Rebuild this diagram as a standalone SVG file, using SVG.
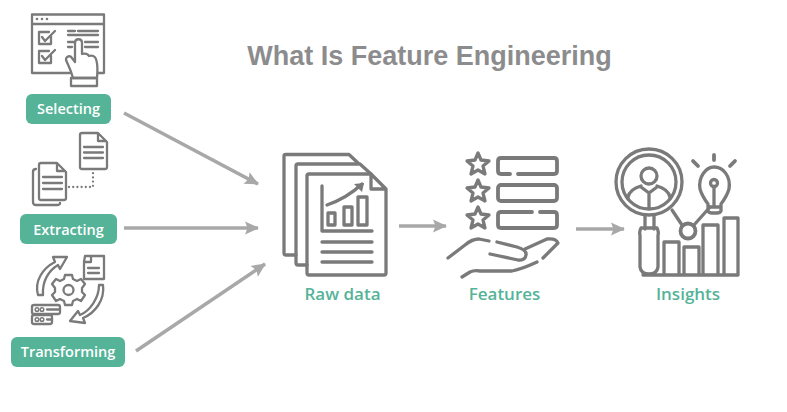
<svg xmlns="http://www.w3.org/2000/svg" width="787" height="412" viewBox="0 0 787 412">
<style>
.i{fill:none;stroke:#7a7a7a;stroke-width:2.300;stroke-linejoin:round;stroke-linecap:round}
.t{stroke-width:3.300}
.m{stroke-width:3.800}
.s{stroke-width:1.500}
.o{stroke-dasharray:0 5;stroke-width:2.600}
.p{fill:#55b398}
.pl{font-family:"Open Sans","Noto Sans",sans-serif;font-weight:600;font-size:14.500px;fill:#fff;text-anchor:middle}
.l{font-family:"Open Sans","Noto Sans",sans-serif;font-weight:600;font-size:17px;fill:#55b398;text-anchor:middle}
.c{stroke:#a8a8a8;stroke-width:3.600;fill:none;marker-end:url(#a)}
</style>
<defs><marker id="a" markerUnits="userSpaceOnUse" markerWidth="16" markerHeight="16" refX="14" refY="8" orient="auto"><path d="M1 1.500L15 8L1 14.500L3.500 8Z" fill="#a8a8a8"/></marker></defs>
<rect width="787" height="412" fill="#fff"/>
<text id="title" x="429.500" y="65" font-family="Liberation Sans,Arial,sans-serif" font-weight="700" font-size="27px" fill="#8c8c8e" text-anchor="middle">What Is Feature Engineering</text>
<g id="connectors">
<path class="c" d="M124 113L258 184"/>
<path class="c" d="M124 228L258 228"/>
<path class="c" d="M136 351L265 264"/>
<path class="c" d="M399 226L446 226"/>
<path class="c" d="M576 229L624 229"/>
</g>
<g id="selecting">
<path class="i" d="M70 73H32V14.500H104V73H98M32 24H104"/>
<path class="i o" d="M37 19H48"/>
<path class="i" d="M51 36V44H39V32H49M51 56V63H39V51H49M42 37L45 41L55 31M42 56L45 60L55 50"/>
<path class="i" d="M68 31H75M78 31H98M68 35H98M68 42H74M85 42H98M68 47H72M85 47H98"/>
<path class="i" style="fill:#fff" d="M73 78C71 70 68 65 66 60C66 56 70 55 72 58L75 62V43C75 38 82 38 82 43V54C85 53 88 54 89 56C92 55 95 56 96 59C97 62 98 68 97 78Z"/>
<path class="i" d="M71 78H97V86H71Z"/>
<rect class="p" x="26" y="94" width="85" height="30" rx="6"/>
<text class="pl" x="68.500" y="114">Selecting</text>
</g>
<g id="extracting">
<path class="i" d="M82 133H98L107 142V167Q107 169 105 169H82Q80 169 80 167V135Q80 133 82 133ZM98 134V141H106M84 147H103M84 152.500H103M84 158H103"/>
<path class="i" d="M41 163H57L66 172V198Q66 200 64 200H41Q39 200 39 198V165Q39 163 41 163ZM57 164V171H65M43 177H62M43 183H62M43 189H62"/>
<path class="i" d="M36 169Q33 169 33 172V202Q33 205 36 205H57Q60 205 60 203"/>
<path class="i" stroke-dasharray="0 4.200" d="M69 187H93V171"/>
<rect class="p" x="20" y="214" width="97" height="30" rx="6"/>
<text class="pl" x="68.500" y="235">Extracting</text>
</g>
<g id="transforming">
<path class="i" d="M85 256H104V279H84V262ZM85 262H91V256M88 268H99M88 273H99"/>
<path class="i" d="M38 295C34 281 43 268 55 262L53 257L67 257L60 269L58 265C48 271 42 282 43 295Z"/>
<path class="i" d="M103 285C105 300 95 313 83 318L85 323L70 321L78 311L80 315C90 311 99 298 99 285Z"/>
<path class="i" d="M65 275H72L73 279L77 281L81 279L85 284L82 288V292L85 295L81 301L77 299L73 301L72 305H65L64 301L60 299L56 301L52 295L55 292V288L52 284L56 279L60 281L64 279Z"/>
<circle class="i" cx="68.500" cy="290" r="5"/>
<rect class="i" x="32" y="305" width="28" height="9" rx="2"/>
<rect class="i" x="32" y="315" width="20" height="9" rx="2"/>
<path class="i" d="M47 309.500H60M47 319.500H52"/>
<circle class="i s" cx="37" cy="309.500" r="1.800"/><circle class="i s" cx="42" cy="309.500" r="1.800"/><circle class="i s" cx="37" cy="319.500" r="1.800"/><circle class="i s" cx="42" cy="319.500" r="1.800"/>
<rect class="p" x="11" y="337" width="114" height="30" rx="6"/>
<text class="pl" x="68" y="357">Transforming</text>
</g>
<g id="raw-data">
<path class="i t" d="M296 255H286Q284 255 284 253V156Q284 154.500 286 154.500H349L358 163"/>
<path class="i t" d="M307 265H298Q296 265 296 263V166Q296 164 298 164H360L371 174"/>
<path class="i t" d="M309 174H371L386 189V273Q386 275 384 275H309Q307 275 307 273V176Q307 174 309 174ZM371 175V189H385"/>
<path class="i t" d="M322 186V231H372"/>
<path class="i t" d="M328 213H335V225H328ZM344 207H352V225H344ZM358 197H367V225H358ZM327 205Q347 198 362 184"/>
<path d="M354 184L364 183L362 192Z" fill="#7a7a7a"/>
<path class="i t" d="M322 242H372M322 252H372M322 262H372"/>
<text class="l" x="342.500" y="300">Raw data</text>
</g>
<g id="features">
<path class="i t" d="M478 153L481 160L489 161L483 166L485 174L478 170L471 174L473 166L467 161L475 160Z"/>
<path class="i t" d="M478 180L481 187L489 188L483 193L485 201L478 197L471 201L473 193L467 188L475 187Z"/>
<path class="i t" d="M478 207L481 214L489 215L483 220L485 228L478 224L471 228L473 220L467 215L475 214Z"/>
<path class="i m" d="M510 174H501Q498 174 498 171V161Q498 158 501 158H554Q557 158 557 161V171Q557 174 554 174H518"/>
<rect class="i m" x="498" y="185" width="59" height="16" rx="3"/>
<path class="i m" d="M532 212H501Q498 212 498 215V225Q498 228 501 228H554Q557 228 557 225V215Q557 212 554 212H540"/>
<path class="i t" d="M448 258L465 245Q472 239 479 239L489 241"/>
<path class="i t" d="M497 242L517 247Q527 250 526 255Q525 261 518 260L490 254"/>
<path class="i t" d="M525 249L547 239Q556 238 558 243L543 258"/>
<path class="i t" d="M462 277L470 272Q474 270 480 271H512Q522 269 537 262"/>
<text class="l" x="504.500" y="300">Features</text>
</g>
<g id="insights">
<circle class="i t" cx="649" cy="182" r="33"/>
<circle class="i t" cx="649" cy="182" r="27"/>
<circle class="i t" cx="649" cy="176" r="8"/>
<path class="i t" d="M628 199V197Q630 189 641 186M670 199V197Q668 189 657 186M649 193V208M641 187L649 193L657 187"/>
<path class="i t" d="M645 215V229M654 215V229M641 228H657Q659 232 658 235V267Q657 274 649 274Q641 274 640 267V235Q639 232 641 228Z"/>
<path class="i t" d="M643 275H738V218H724V275M703 275V225H718V275M684 275V247H699V275M664 275V242H679V275"/>
<circle class="i m" cx="688" cy="231" r="7.500"/>
<path class="i t" d="M672 210L682 225M694 225L710 207"/>
<path class="i t" d="M708 207V204Q702 196 700 189C698 177 706 167 714 167C723 167 731 176 729 189Q727 196 721 204V207ZM708 207V211Q709 213 712 213H717Q720 213 721 211V207"/>
<circle class="i t" cx="714" cy="183" r="3.500"/>
<path class="i t" d="M714 187V206"/>
<path class="i m" d="M714 155V160M693 161L698 166M735 161L730 166"/>
<text class="l" x="688" y="300">Insights</text>
</g>
</svg>
